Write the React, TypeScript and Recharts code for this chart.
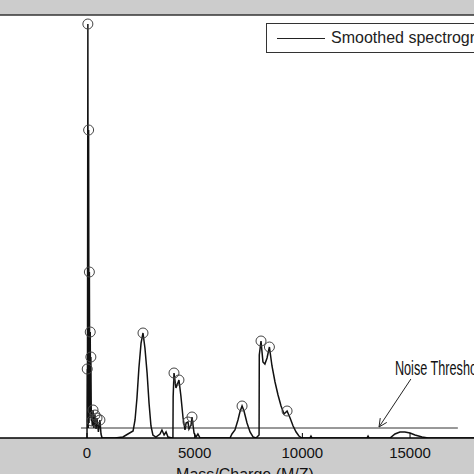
import { ComposedChart, Line, Scatter, XAxis, YAxis, CartesianGrid, ReferenceLine } from "recharts";

// m/z and intensity of the smoothed spectrum, grouped by region
const mzCluster = [0, 10, 20, 40, 60, 75, 95, 110, 130, 150, 165, 180, 200, 230, 250, 280, 320, 370, 420, 465, 530, 600, 650, 700];
const intCluster = [0, 690, 150, 4140, 100, 3080, 150, 1660, 200, 1060, 250, 810, 180, 170, 120, 280, 100, 230, 90, 200, 60, 180, 40, 0];

const mzPeak2 = [1300, 1670, 1900, 2140, 2230, 2320, 2410, 2510, 2600, 2690, 2790, 2880, 2970, 3060, 3200, 3390, 3480, 3580, 3670, 3760, 3950];
const intPeak2 = [0, 10, 40, 70, 180, 400, 700, 950, 1050, 900, 650, 350, 120, 30, 10, 40, 80, 30, 60, 10, 0];

const mzPeak3 = [3990, 4000, 4040, 4130, 4270, 4360, 4460, 4550, 4600, 4690, 4735, 4830, 4875, 4970, 5060, 5150, 5250];
const intPeak3 = [0, 410, 650, 500, 580, 420, 200, 80, 150, 160, 90, 130, 210, 50, 10, 40, 0];

const mzPeak45 = [6640, 6730, 6870, 7010, 7100, 7200, 7290, 7430, 7570, 7710, 7850, 7940, 7990, 8000, 8080, 8170, 8260, 8360, 8470, 8590, 8730, 8870, 9010, 9150, 9290, 9430, 9570, 9710, 9840, 9980];
const intPeak45 = [0, 40, 80, 180, 260, 320, 270, 150, 60, 10, 0, 20, 30, 830, 970, 760, 740, 800, 910, 720, 560, 430, 320, 240, 270, 200, 120, 60, 20, 0];

const mzTail = [10350, 10400, 10450, 13000, 13050, 13100, 14070, 14300, 14530, 14760, 15000, 15230, 15560, 15840, 17970];
const intTail = [0, 20, 0, 0, 20, 0, 0, 40, 60, 60, 50, 30, 10, 0, 0];

// detected peaks (circles)
const peakMz = [40, 75, 110, 150, 180, 10, 280, 370, 465, 600, 230, 2600, 4040, 4270, 4690, 4875, 7200, 8080, 8470, 9290];
const peakInt = [4140, 3080, 1660, 1060, 810, 690, 280, 230, 200, 180, 170, 1050, 650, 580, 160, 210, 320, 970, 910, 270];

const thresholdMz = [-280, 17220];
const thresholdInt = [100, 100];

const arrowFrom = { mz: 15040, i: 590 };
const arrowTo = { mz: 13560, i: 110 };

const xTicks = [0, 5000, 10000, 15000];
const xDomain = [-4040, 17970];
const yDomain = [0, 4230];

const zip = (xs: number[], ys: number[]) => xs.map((mz, k) => ({ mz, i: ys[k] }));

const spectrum = [
  ...zip(mzCluster, intCluster),
  ...zip(mzPeak2, intPeak2),
  ...zip(mzPeak3, intPeak3),
  ...zip(mzPeak45, intPeak45),
  ...zip(mzTail, intTail),
];
const peaks = zip(peakMz, peakInt);
const threshold = zip(thresholdMz, thresholdInt);

const font = "'Liberation Sans', Arial, sans-serif";

const BottomTick = ({ x, y, payload }: any) => (
  <g>
    <line x1={x} x2={x} y1={y - 5} y2={y} stroke="#000" />
    <text x={x} y={y + 20} textAnchor="middle" fontSize={15} fontFamily={font} fill="#111">
      {payload.value}
    </text>
  </g>
);

const TopTick = ({ x, y }: any) => <line x1={x} x2={x} y1={y} y2={y + 5} stroke="#000" />;

const PeakCircle = ({ cx, cy }: any) => <circle cx={cx} cy={cy} r={5} fill="none" stroke="#444" strokeWidth={1} />;

const Arrow = ({ x1, y1, x2, y2 }: any) => {
  const a = Math.atan2(y2 - y1, x2 - x1);
  const h = 9;
  return (
    <g>
      <line x1={x1} y1={y1} x2={x2} y2={y2} stroke="#222" strokeWidth={1} />
      <line x1={x2} y1={y2} x2={x2 - h * Math.cos(a - 0.45)} y2={y2 - h * Math.sin(a - 0.45)} stroke="#222" />
      <line x1={x2} y1={y2} x2={x2 - h * Math.cos(a + 0.45)} y2={y2 - h * Math.sin(a + 0.45)} stroke="#222" />
      <text x={x1 - 16} y={y1 - 4} fontSize={21} fontFamily={font} fill="#111" textLength={92} lengthAdjust="spacingAndGlyphs">
        Noise Threshold
      </text>
    </g>
  );
};

export default function App() {
  return (
    <div style={{ position: "fixed", left: 0, top: 0, width: 474, height: 474, background: "#cccccc", overflow: "hidden" }}>
      <ComposedChart width={474} height={474} margin={{ top: 0, right: 0, bottom: 0, left: 0 }}>
        <CartesianGrid horizontal={false} vertical={false} fill="#fff" />
        <XAxis
          type="number"
          dataKey="mz"
          domain={xDomain}
          allowDataOverflow
          ticks={xTicks}
          height={36}
          tickSize={0}
          tickMargin={0}
          tick={<BottomTick />}
          axisLine={{ stroke: "#000", strokeWidth: 1.5 }}
          label={{ value: "Mass/Charge (M/Z)", position: "insideBottom", offset: -6, dx: 8, fontSize: 16, fontFamily: font, fill: "#111" }}
        />
        <XAxis
          xAxisId="top"
          orientation="top"
          type="number"
          domain={xDomain}
          allowDataOverflow
          ticks={xTicks}
          height={15}
          tickSize={0}
          tickMargin={0}
          tick={<TopTick />}
          axisLine={{ stroke: "#333", strokeWidth: 1.5 }}
        />
        <YAxis type="number" dataKey="i" domain={yDomain} allowDataOverflow hide />
        <Line data={threshold} dataKey="i" stroke="#333" strokeWidth={1} dot={false} isAnimationActive={false} />
        <Line data={spectrum} dataKey="i" stroke="#111" strokeWidth={1.5} dot={false} isAnimationActive={false} />
        <Scatter data={peaks} dataKey="i" shape={<PeakCircle />} isAnimationActive={false} />
        <ReferenceLine
          segment={[{ x: arrowFrom.mz, y: arrowFrom.i }, { x: arrowTo.mz, y: arrowTo.i }]}
          shape={<Arrow />}
        />
      </ComposedChart>
      <div
        style={{
          position: "absolute",
          left: 266,
          top: 23,
          width: 260,
          height: 28,
          border: "1px solid #333",
          background: "#fff",
          fontFamily: font,
          fontSize: 16,
          color: "#222",
        }}
      >
        <div style={{ position: "absolute", left: 10, top: 14, width: 48, borderTop: "1px solid #222" }} />
        <div style={{ position: "absolute", left: 64, top: 4, whiteSpace: "nowrap", lineHeight: "20px" }}>Smoothed spectrogram</div>
      </div>
    </div>
  );
}
